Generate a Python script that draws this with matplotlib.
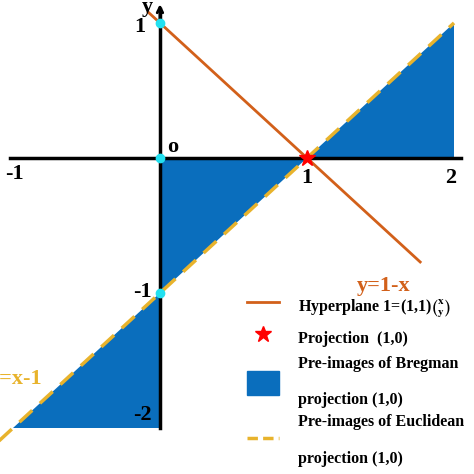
import matplotlib
matplotlib.use("Agg")
import matplotlib.pyplot as plt
from matplotlib.patches import Polygon, Patch
from matplotlib.lines import Line2D

plt.rcParams['font.family'] = 'Liberation Serif'
plt.rcParams['font.weight'] = 'bold'
plt.rcParams['mathtext.fontset'] = 'stix'

# regions (pre-images of Bregman projection)
tri_right = [(1, 0), (2, 0), (2, 1)]
tri_mid = [(0, 0), (1, 0), (0, -1)]
tri_left = [(0, -1), (0, -2), (-1, -2)]
hyper_x = [-0.08, 1.77]
eucl_x = [-1.1, 2.0]
dots_y = [1, 0, -1]
blue = '#0a6ebd'
orange = '#d2601a'
yellow = '#e8b32c'

fig = plt.figure(figsize=(4.74, 4.74), dpi=100)
ax = fig.add_axes([0, 0, 1, 1])
ax.set_xlim(-1.088, 2.136)
ax.set_ylim(-2.34, 1.17)
ax.axis('off')

for tri in (tri_right, tri_mid, tri_left):
    ax.add_patch(Polygon(tri, closed=True, color=blue, lw=0, zorder=1))

# axes
ax.plot([-1.02, 2.05], [0, 0], color='black', lw=2.5, zorder=2)
ax.plot([0, 0], [-2, 1.1], color='black', lw=2.5, zorder=2)
ax.annotate('', xy=(0, 1.16), xytext=(0, 1.0),
            arrowprops=dict(arrowstyle='->', color='black', lw=2), zorder=2)

ax.plot(hyper_x, [1 - x for x in hyper_x], color=orange, lw=2, zorder=3)
ax.plot(eucl_x, [x - 1 for x in eucl_x], color=yellow, lw=2.5,
        dashes=(5, 3), zorder=3)
ax.plot([0] * len(dots_y), dots_y, 'o', color='#22e0f0', ms=6, zorder=4)
ax.plot([1], [0], '*', color='red', ms=12, zorder=5)

fs = 16
ax.text(-0.05, 1.12, 'y', fontsize=fs, ha='right', va='center')
ax.text(-0.1, 0.97, '1', fontsize=fs, ha='right', va='center')
ax.text(0.05, 0.08, 'o', fontsize=fs, ha='left', va='center')
ax.text(-0.99, -0.12, '-1', fontsize=fs, ha='center', va='center')
ax.text(1.0, -0.15, '1', fontsize=fs, ha='center', va='center')
ax.text(1.98, -0.15, '2', fontsize=fs, ha='center', va='center')
ax.text(-0.12, -0.99, '-1', fontsize=fs, ha='center', va='center')
ax.text(-0.12, -1.9, '-2', fontsize=fs, ha='center', va='center')
ax.text(1.52, -0.95, 'y=1-x', fontsize=fs, color=orange, ha='center', va='center')
ax.text(-0.98, -1.64, 'y=x-1', fontsize=fs, color=yellow, ha='center', va='center')

handles = [
    Line2D([], [], color=orange, lw=2),
    Line2D([], [], marker='*', color='red', ls='none', ms=12),
    Patch(color=blue),
    Line2D([], [], color=yellow, lw=2.5, dashes=(3, 1.5)),
]
labels = [
    r'Hyperplane 1=(1,1)$\left(\mathbf{^x_y}\right)$',
    'Projection  (1,0)',
    'Pre-images of Bregman\n\nprojection (1,0)',
    'Pre-images of Euclidean\n\nprojection (1,0)',
]
ax.legend(handles, labels, loc='lower right', bbox_to_anchor=(1.01, -0.015),
          frameon=False, fontsize=11.5, handlelength=2.0, handleheight=2.0,
          labelspacing=0.35, handletextpad=1.2)

fig.savefig('out.png', dpi=100)
